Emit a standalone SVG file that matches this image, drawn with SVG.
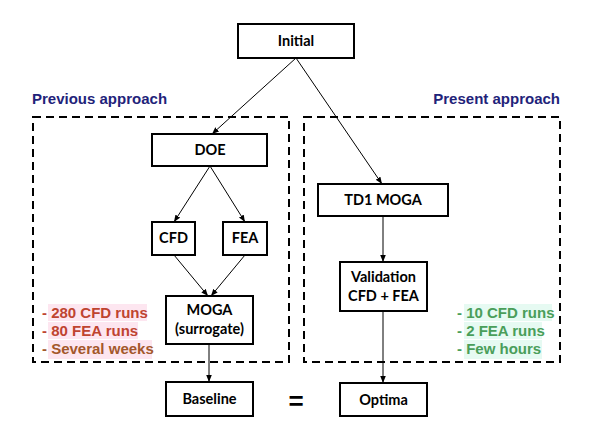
<svg xmlns="http://www.w3.org/2000/svg" width="592" height="440" viewBox="0 0 592 440">
<style>
.box{fill:#fff;stroke:#000;stroke-width:2}
.lbl{font-family:Lato,"Open Sans","Liberation Sans",sans-serif;font-weight:bold;font-size:14.5px;fill:#000;text-anchor:middle}
.head{font-family:"Liberation Sans",Arial,sans-serif;font-weight:bold;font-size:15px;fill:#1f237a}
.note{font-family:"Liberation Sans",Arial,sans-serif;font-weight:bold;font-size:15px}
.dash{fill:none;stroke:#000;stroke-width:2;stroke-dasharray:8 5}
.conn{stroke:#000;stroke-width:1;fill:none;marker-end:url(#ah)}
</style>
<defs>
<marker id="ah" viewBox="0 0 10 10" refX="10" refY="5" markerWidth="7" markerHeight="7" orient="auto" markerUnits="userSpaceOnUse">
<path d="M0,1 L10,5 L0,9 z" fill="#000"/>
</marker>
</defs>
<rect width="592" height="440" fill="#fff"/>
<g id="previous-approach">
<text class="head" x="32" y="104">Previous approach</text>
<rect class="dash" x="33" y="117" width="256" height="245"/>
<rect x="48" y="304" width="99" height="17" fill="#fde6f0"/>
<rect x="48" y="322" width="90" height="17" fill="#fde6f0"/>
<rect x="48" y="340" width="104" height="19" fill="#fde6f0"/>
<text class="note" x="42" y="318" fill="#bf4430">- 280 CFD runs</text>
<text class="note" x="42" y="336" fill="#bf4430">- 80 FEA runs</text>
<text class="note" x="42" y="354" fill="#a3582b">- Several weeks</text>
</g>
<g id="present-approach">
<text class="head" x="560" y="104" text-anchor="end">Present approach</text>
<rect class="dash" x="304" y="117" width="256" height="245"/>
<rect x="464" y="304" width="88" height="17" fill="#e6faf2"/>
<rect x="464" y="322" width="78" height="17" fill="#e6faf2"/>
<rect x="464" y="340" width="78" height="19" fill="#e6faf2"/>
<text class="note" x="457" y="318" fill="#4a9e5a">- 10 CFD runs</text>
<text class="note" x="457" y="336" fill="#4a9e5a">- 2 FEA runs</text>
<text class="note" x="457" y="354" fill="#4a9e5a">- Few hours</text>
</g>
<g id="connectors">
<line class="conn" x1="296" y1="58" x2="212" y2="134"/>
<line class="conn" x1="296" y1="58" x2="382" y2="184"/>
<line class="conn" x1="210" y1="166" x2="174" y2="222"/>
<line class="conn" x1="210" y1="166" x2="245" y2="222"/>
<line class="conn" x1="174" y1="255" x2="208" y2="296"/>
<line class="conn" x1="245" y1="255" x2="211" y2="296"/>
<line class="conn" x1="209" y1="344" x2="209" y2="382"/>
<line class="conn" x1="383" y1="216" x2="383" y2="262"/>
<line class="conn" x1="383" y1="311" x2="383" y2="383"/>
</g>
<g id="initial"><rect class="box" x="238" y="24" width="116" height="34"/><text class="lbl" x="296" y="46">Initial</text></g>
<g id="doe"><rect class="box" x="152" y="134" width="115" height="32"/><text class="lbl" x="210" y="155">DOE</text></g>
<g id="cfd"><rect class="box" x="152" y="222" width="43" height="33"/><text class="lbl" x="173.5" y="243">CFD</text></g>
<g id="fea"><rect class="box" x="223" y="222" width="44" height="33"/><text class="lbl" x="245" y="243">FEA</text></g>
<g id="moga-surrogate"><rect class="box" x="166" y="296" width="87" height="48"/><text class="lbl" x="209.5" y="315">MOGA</text><text class="lbl" x="209.5" y="334">(surrogate)</text></g>
<g id="baseline"><rect class="box" x="166" y="382" width="87" height="34"/><text class="lbl" x="209.5" y="404">Baseline</text></g>
<g id="td1-moga"><rect class="box" x="318" y="184" width="130" height="32"/><text class="lbl" x="383" y="205">TD1 MOGA</text></g>
<g id="validation"><rect class="box" x="340" y="262" width="87" height="49"/><text class="lbl" x="383.5" y="282">Validation</text><text class="lbl" x="383.5" y="301">CFD + FEA</text></g>
<g id="optima"><rect class="box" x="340" y="383" width="87" height="33"/><text class="lbl" x="383.5" y="405">Optima</text></g>
<g id="equals"><text x="296" y="410" text-anchor="middle" font-family="Liberation Sans, Arial, sans-serif" font-weight="bold" font-size="26" fill="#000">=</text></g>
</svg>
